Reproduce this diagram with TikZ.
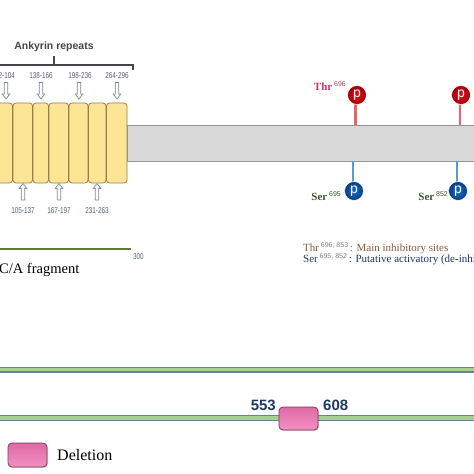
\documentclass[tikz,border=0pt]{standalone}
\usepackage{fontspec}
\setmainfont{Liberation Serif}
\setsansfont{Liberation Sans}
\usetikzlibrary{shadows}
\definecolor{boxFill}{RGB}{253,229,150}
\definecolor{boxEdge}{RGB}{150,128,70}
\definecolor{barFill}{RGB}{217,217,217}
\definecolor{barEdge}{RGB}{150,150,150}
\definecolor{arrowOutline}{RGB}{125,135,150}
\definecolor{rangeGray}{RGB}{85,95,110}
\definecolor{headGray}{RGB}{70,70,75}
\definecolor{fragGreen}{RGB}{95,122,55}
\definecolor{thrPink}{RGB}{200,50,110}
\definecolor{serGreen}{RGB}{60,85,40}
\definecolor{pRed}{RGB}{230,15,25}
\definecolor{pRedDark}{RGB}{160,0,10}
\definecolor{pBlue}{RGB}{25,110,195}
\definecolor{pBlueDark}{RGB}{10,60,130}
\definecolor{stickRed}{RGB}{232,100,106}
\definecolor{stickBlue}{RGB}{91,155,213}
\definecolor{legendBrown}{RGB}{140,90,60}
\definecolor{legendNavy}{RGB}{31,56,100}
\definecolor{bandEdge}{RGB}{100,135,145}
\definecolor{bandFill}{RGB}{168,208,141}
\definecolor{delTop}{RGB}{222,105,165}
\definecolor{delBottom}{RGB}{242,145,195}
\definecolor{delEdge}{RGB}{120,60,80}

\tikzset{
  hollowArrow/.pic={\draw[arrowOutline, fill=white, line width=0.7pt] (-1.8,-8) -- (-1.8,3.5) -- (-3.8,3.5) -- (0,8.5) -- (3.8,3.5) -- (1.8,3.5) -- (1.8,-8) -- cycle;},
  rangeLabel/.style={font=\sffamily\fontsize{8.5}{9}\selectfont, xscale=0.75, text=rangeGray, inner sep=0pt},
  pBall/.style={circle, minimum size=19pt, inner sep=0pt, draw=white, line width=0.6pt, text=white, font=\sffamily\fontsize{14}{14}\selectfont},
  redBall/.style={pBall, inner color=pRed, outer color=pRedDark},
  blueBall/.style={pBall, inner color=pBlue, outer color=pBlueDark},
  siteLabel/.style={font=\bfseries\fontsize{11}{12}\selectfont, inner sep=0pt, anchor=base east},
  band/.style={line width=6pt, color=bandEdge},
  bandCore/.style={line width=3.4pt, color=bandFill},
  deletion/.style={draw=delEdge, line width=0.8pt, rounded corners=4pt, top color=delTop, bottom color=delBottom, drop shadow={opacity=0.35, shadow xshift=1pt, shadow yshift=-1.2pt}}
}
\newcommand{\supnum}[1]{\raisebox{3.5pt}{\sffamily\fontsize{7}{7}\selectfont\mdseries #1}}

\begin{document}
\begin{tikzpicture}[x=1pt, y=-1pt]
    \useasboundingbox (0,0) rectangle (474,474);
    \clip (0,0) rectangle (474,474);

    % --- Ankyrin-Klammer ---
    \node[font=\sffamily\bfseries\fontsize{10.5}{12}\selectfont, text=headGray] (ankyrin) at (54,47) {Ankyrin repeats};
    \draw[headGray, line width=1.1pt] (-2,65) -- (133,65) -- (133,70);
    \draw[headGray, line width=1.1pt] (54,65) -- (54,56);

    % --- Bereiche oben ---
    \node[rangeLabel] (r72) at (5,76) {72-104};
    \node[rangeLabel] (r138) at (41,76) {138-166};
    \node[rangeLabel] (r198) at (80,76) {198-236};
    \node[rangeLabel] (r264) at (117,76) {264-296};
    \foreach \x in {6, 41, 79, 117}
        \pic at (\x,90.5) {hollowArrow};

    % --- Balken und Ankyrin-Kästen ---
    \draw[barEdge, fill=barFill, line width=0.8pt] (127,125) rectangle (480,161);
    \foreach \l/\r in {-8/12.5, 13/32.5, 33/48.5, 49/68.5, 69/88, 88.5/106, 106.5/127}
        \draw[boxEdge, fill=boxFill, line width=0.8pt, rounded corners=3pt] (\l,103) rectangle (\r,183);

    % --- Bereiche unten ---
    \foreach \x in {23, 59, 97}
        \pic[rotate=180] at (\x,192) {hollowArrow};
    \node[rangeLabel] (r105) at (23,211) {105-137};
    \node[rangeLabel] (r167) at (59,211) {167-197};
    \node[rangeLabel] (r231) at (97,211) {231-263};

    % --- C/A-Fragment ---
    \draw[fragGreen, line width=2pt] (-2,249) -- (131,249);
    \node[rangeLabel, anchor=west] (r300) at (133,257) {300};
    \node[font=\fontsize{14.5}{16}\selectfont, anchor=base west, inner sep=0pt] (fragment) at (-1,273) {C/A fragment};

    % --- Phosphorylierungsstellen ---
    \draw[stickRed, line width=2.2pt] (355.5,104) -- (355.5,125);
    \draw[stickRed, line width=2.2pt] (460,104) -- (460,125);
    \draw[stickBlue, line width=2.6pt] (353,161) -- (353,183);
    \draw[stickBlue, line width=2.6pt] (457,161) -- (457,183);
    \node[redBall] (thr696) at (357,95) {p};
    \node[redBall] (thr853) at (461,95) {p};
    \node[blueBall] (ser695) at (354,191) {p};
    \node[blueBall] (ser852) at (458,191) {p};
    \node[siteLabel, text=thrPink] (thr696text) at (346,90) {Thr\,\supnum{696}};
    \node[siteLabel, text=serGreen] (ser695text) at (341,200) {Ser\,\supnum{695}};
    \node[siteLabel, text=serGreen] (ser852text) at (448,200) {Ser\,\supnum{852}};

    % --- Legende ---
    \node[anchor=base west, inner sep=0pt, font=\fontsize{11}{12}\selectfont, text=legendBrown] (legendThr) at (303,251)
        {Thr\,{\color{gray}\supnum{696, 853}}\,: Main inhibitory sites};
    \node[anchor=base west, inner sep=0pt, font=\fontsize{11}{12}\selectfont, text=legendNavy] (legendSer) at (303,262)
        {Ser\,{\color{gray}\supnum{695, 852}}\,: Putative activatory (de-inhibitory) sites};

    % --- Konstrukte unten ---
    \draw[band] (-2,369.5) -- (476,369.5);
    \draw[bandCore] (-2,369.5) -- (476,369.5);
    \draw[band] (-2,418) -- (476,418);
    \draw[bandCore] (-2,418) -- (476,418);
    \node[deletion, minimum width=39pt, minimum height=23pt] (del) at (298.5,418.5) {};
    \node[font=\sffamily\bfseries\fontsize{15}{16}\selectfont, text=legendNavy, anchor=east, inner sep=0pt] (n553) at (276,405) {553};
    \node[font=\sffamily\bfseries\fontsize{15}{16}\selectfont, text=legendNavy, anchor=west, inner sep=0pt] (n608) at (323,405) {608};

    % --- Legende Deletion ---
    \node[deletion, minimum width=39pt, minimum height=24pt] (delKey) at (27.5,455) {};
    \node[font=\fontsize{16}{18}\selectfont, anchor=west, inner sep=0pt] (delText) at (57,455) {Deletion};
\end{tikzpicture}
\end{document}
